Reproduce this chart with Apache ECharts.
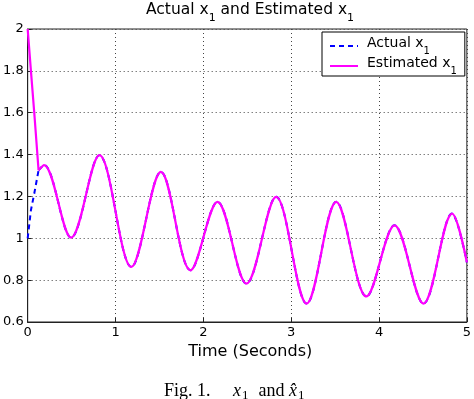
<!DOCTYPE html>
<html>
<head>
<meta charset="utf-8">
<script src="https://cdn.jsdelivr.net/npm/echarts@6/dist/echarts.min.js"></script>
<style>
    html, body { margin: 0; padding: 0; background: #fff; }
    #main { width: 474px; height: 399px; }
</style>
</head>
<body>
<div id="main"></div>
<script>
// values (start, then the turning points of the oscillation)
var timeEst = [0, 0.037, 0.075, 0.124, 0.187, 0.494, 0.816, 1.18, 1.517, 1.854, 2.161, 2.49,
    2.828, 3.176, 3.513, 3.857, 4.176, 4.506, 4.831, 5.0];
var xEst = [2.0, 1.8, 1.6, 1.325, 1.35, 1.003, 1.397, 0.863, 1.317, 0.847, 1.174, 0.783,
    1.198, 0.688, 1.174, 0.722, 1.062, 0.688, 1.118, 0.885];
// actual starts at 1 and joins the estimate at t = 0.124
var timeAct = [0, 0.037, 0.075];
var xAct = [1.0, 1.134, 1.214];
var joinIndex = 3;

var font = 'DejaVu Sans';

var estData = timeEst.map(function (t, i) { return [t, xEst[i]]; });
var actStart = timeAct.map(function (t, i) { return [t, xAct[i]]; })
    .concat([estData[joinIndex]]);
var estStart = estData.slice(0, joinIndex + 1);
var common = estData.slice(joinIndex);

var chart = echarts.init(document.getElementById('main'));

// main text sits higher than its box bottom, so the "1" drops below the baseline
function subRich(size, subSize, drop) {
    return {
        m: { fontFamily: font, fontSize: size, color: '#000', verticalAlign: 'bottom', padding: [0, 0, drop, 0] },
        s: { fontFamily: font, fontSize: subSize, color: '#000', verticalAlign: 'bottom' }
    };
}

var blue = { color: '#0000ff', width: 2, type: [5, 4] };
var pink = { color: '#ff00ff', width: 2.2 };

chart.setOption({
    animation: false,
    backgroundColor: '#fff',
    title: {
        text: '{m|Actual x}{s|1}{m| and Estimated x}{s|1}',
        left: 141,
        top: -3,
        textStyle: {
            fontFamily: font, fontSize: 15.5, fontWeight: 'normal', color: '#000',
            rich: subRich(15.5, 11, 6)
        }
    },
    grid: {
        left: 25, right: 4, top: 29, bottom: 77,
        show: true, borderColor: '#222', borderWidth: 1
    },
    legend: {
        left: 322, top: 32,
        orient: 'vertical',
        backgroundColor: '#fff',
        borderColor: '#000', borderWidth: 1, borderRadius: 0,
        padding: [4, 8, 0, 7],
        itemGap: 0,
        itemWidth: 28, itemHeight: 18,
        itemStyle: { opacity: 0 },
        data: ['Actual', 'Estimated'],
        formatter: function (name) { return '{m|' + name + ' x}{s|1}'; },
        textStyle: {
            fontFamily: font, fontSize: 14, color: '#000', padding: [0, 0, 0, 4],
            rich: subRich(14, 10, 6)
        }
    },
    xAxis: {
        type: 'value', min: 0, max: 5, interval: 1,
        name: 'Time (Seconds)', nameLocation: 'middle', nameGap: 5,
        nameTextStyle: { fontFamily: font, fontSize: 16, color: '#000', padding: [0, 0, 0, 6] },
        axisLine: { lineStyle: { color: '#222' } },
        axisTick: { inside: true, length: 4, lineStyle: { color: '#222' } },
        axisLabel: { fontFamily: font, fontSize: 13, color: '#000', margin: 4 },
        splitLine: { show: true, lineStyle: { color: '#444', type: [1, 3] } }
    },
    yAxis: {
        type: 'value', min: 0.6, max: 2, interval: 0.2,
        axisLine: { show: true, lineStyle: { color: '#222' } },
        axisTick: { show: true, inside: true, length: 4, lineStyle: { color: '#222' } },
        axisLabel: {
            fontFamily: font, fontSize: 13, color: '#000', margin: 4,
            formatter: function (v) { return String(Math.round(v * 10) / 10); }
        },
        splitLine: { show: true, lineStyle: { color: '#444', type: [1, 3] } }
    },
    series: [
        {
            name: 'Actual', type: 'line', data: actStart,
            symbol: 'none', z: 2, lineStyle: blue, itemStyle: { color: '#0000ff' }
        },
        {
            name: 'Actual', type: 'line', data: common,
            symbol: 'none', smooth: 0.34, z: 2, lineStyle: blue, itemStyle: { color: '#0000ff' }
        },
        {
            name: 'Estimated', type: 'line', data: estStart,
            symbol: 'none', z: 3, lineStyle: pink, itemStyle: { color: '#ff00ff' }
        },
        {
            name: 'Estimated', type: 'line', data: common,
            symbol: 'none', smooth: 0.34, z: 3, lineStyle: pink, itemStyle: { color: '#ff00ff' }
        }
    ],
    graphic: [{
        type: 'text',
        left: 164,
        top: 382,
        style: {
            text: '{r|Fig. 1.     }{i|x}{s|1}{r|  and }{i|x\u0302}{s|1}',
            fontFamily: 'Liberation Serif', fontSize: 18, fill: '#000',
            rich: {
                r: { fontFamily: 'Liberation Serif', fontSize: 18, verticalAlign: 'bottom', padding: [0, 0, 2, 0] },
                i: { fontFamily: 'Liberation Serif', fontStyle: 'italic', fontSize: 18, verticalAlign: 'bottom', padding: [0, 0, 2, 0] },
                s: { fontFamily: 'Liberation Serif', fontSize: 13, verticalAlign: 'bottom', padding: [0, 1, 0, 1] }
            }
        }
    }]
});
</script>
</body>
</html>
